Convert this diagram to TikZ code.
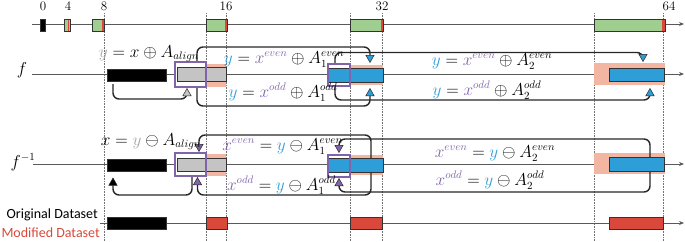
\documentclass[tikz,border=0pt]{standalone}
\usepackage{fontspec}
\newfontfamily\carl{Carlito}
\usetikzlibrary{arrows.meta,calc}
\definecolor{grn}{RGB}{160,206,145}
\definecolor{redc}{RGB}{217,72,58}
\definecolor{salm}{RGB}{243,182,162}
\definecolor{bluec}{RGB}{46,158,216}
\definecolor{purp}{RGB}{128,100,170}
\definecolor{grayf}{RGB}{196,196,196}
\definecolor{grayt}{RGB}{165,165,165}
\newcommand\mfont{\fontsize{16}{19}\selectfont}
\begin{document}
\begin{tikzpicture}[x=1pt,y=-1pt,
  axis/.style={draw=black!65,line width=0.8pt,-{Stealth[length=5pt,width=4pt]}},
  guide/.style={draw=black!55,densely dotted,line width=0.6pt},
  rbox/.style={draw=black!80,line width=0.8pt,inner sep=0pt,outer sep=0pt},
  sbox/.style={fill=salm,draw=none,inner sep=0pt,outer sep=0pt},
  pbox/.style={draw=purp,line width=1.2pt,fill=white,inner sep=0pt,outer sep=0pt},
  pline/.style={draw=purp,line width=1.2pt,inner sep=0pt,outer sep=0pt},
  conn/.style={draw=black!85,line width=1.4pt,rounded corners=6pt},
  btip/.tip={Triangle[width=9pt,length=8pt,fill=bluec,line width=0.5pt]},
  gtip/.tip={Triangle[width=9pt,length=8pt,fill=grayf,line width=0.5pt]},
  ptip/.tip={Triangle[width=9pt,length=8pt,fill=purp,line width=0.5pt]},
  ktip/.tip={Triangle[width=9pt,length=8pt,fill=black,line width=0.5pt]},
  lab/.style={font=\mfont,inner sep=0pt,anchor=base},
  tick/.style={font=\fontsize{13}{15}\selectfont,inner sep=0pt,anchor=base}]
\useasboundingbox (0,0) rectangle (685,241);
% guides
\foreach \gx in {104,206,226,350,382,594,663} \draw[guide] (\gx,13) -- (\gx,241);
% tick labels
\node[tick] (n0) at (43,10) {0};
\node[tick] (n4) at (68,10) {4};
\node[tick] (n8) at (104,10) {8};
\node[tick] (n16) at (226,10) {16};
\node[tick] (n32) at (382,10) {32};
\node[tick] (n64) at (669,10) {64};
% axes
\coordinate (aT0) at (32,24); \coordinate (aT1) at (684,24);
\coordinate (aF0) at (32,74); \coordinate (aF1) at (684,74);
\coordinate (aI0) at (33,164); \coordinate (aI1) at (684,164);
\coordinate (aD0) at (100,223); \coordinate (aD1) at (684,223);
\draw[axis] (aT0) -- (aT1);
\draw[axis] (aF0) -- (aF1);
\draw[axis] (aI0) -- (aI1);
\draw[axis] (aD0) -- (aD1);
% timeline blocks
\node[rbox,fill=black,minimum width=4.5pt,minimum height=12pt] (t0) at (43,25) {};
\node[rbox,fill=grn,minimum width=6pt,minimum height=12pt] (t4) at (67,25) {};
\node[fill=redc,inner sep=0pt,minimum width=1.6pt,minimum height=11pt] (r4) at (68.3,25) {};
\node[rbox,fill=grn,minimum width=12pt,minimum height=12pt] (t8) at (98,25) {};
\node[fill=redc,inner sep=0pt,minimum width=1.6pt,minimum height=11pt] (r8) at (103.2,25) {};
\node[rbox,fill=grn,minimum width=21pt,minimum height=12pt] (t16) at (216.5,25) {};
\node[fill=redc,inner sep=0pt,minimum width=2pt,minimum height=11pt] (r16) at (225.7,25) {};
\node[rbox,fill=grn,minimum width=33pt,minimum height=12pt] (t32) at (366.5,25) {};
\node[fill=redc,inner sep=0pt,minimum width=2pt,minimum height=11pt] (r32) at (381.7,25) {};
\node[rbox,fill=grn,minimum width=71pt,minimum height=12pt] (t64) at (629.5,25) {};
\node[fill=redc,inner sep=0pt,minimum width=2.5pt,minimum height=11pt] (r64) at (663.5,25) {};
% ---------- f row: salmon bands
\node[sbox,minimum width=20pt,minimum height=23pt] (salF16) at (216,75.5) {};
\node[sbox,minimum width=33pt,minimum height=20pt] (salF32) at (366.5,75) {};
\node[sbox,minimum width=71pt,minimum height=22pt] (salF64) at (629.5,74) {};
% f^-1 row: salmon bands
\node[sbox,minimum width=20pt,minimum height=22pt] (salI16) at (216,165) {};
\node[sbox,minimum width=33pt,minimum height=20pt] (salI32) at (366.5,165) {};
\node[sbox,minimum width=71pt,minimum height=21pt] (salI64) at (629.5,163.5) {};
% box geometry (invisible anchors for connectors)
\node[inner sep=0pt,outer sep=0pt,minimum width=59pt,minimum height=12pt] (blkF) at (136.5,75) {};
\node[inner sep=0pt,outer sep=0pt,minimum width=31pt,minimum height=25pt] (purF16) at (190.5,74.5) {};
\node[inner sep=0pt,outer sep=0pt,minimum width=22pt,minimum height=22pt] (purF32) at (339,75) {};
\node[inner sep=0pt,outer sep=0pt,minimum width=55pt,minimum height=13pt] (bluF64) at (636.5,74.5) {};
\node[inner sep=0pt,outer sep=0pt,minimum width=59pt,minimum height=12pt] (blkI) at (136.5,165.5) {};
\node[inner sep=0pt,outer sep=0pt,minimum width=31pt,minimum height=23pt] (purI16) at (190.5,164.5) {};
\node[inner sep=0pt,outer sep=0pt,minimum width=22pt,minimum height=22pt] (purI32) at (339,166) {};
\node[inner sep=0pt,outer sep=0pt,minimum width=55pt,minimum height=14pt] (bluI32) at (355.5,165) {};
\node[inner sep=0pt,outer sep=0pt,minimum width=55pt,minimum height=14pt] (bluI64) at (636.5,164.5) {};
% ---------- f row connectors
\draw[conn,-{gtip}] ([xshift=-23.5pt,yshift=-3pt]blkF.south) -- ++(0,15) -| ([xshift=-3.5pt,yshift=-1pt]purF16.south);
\draw[conn,-{btip}] ([xshift=6.5pt]purF16.center) -- ++(0,-27.5) -| ([xshift=3.5pt,yshift=2pt]salF32.north);
\draw[conn,-{btip}] ([xshift=6.5pt]purF16.center) -- ++(0,31.5) -| ([xshift=3.5pt,yshift=-3pt]salF32.south);
\draw[conn,-{btip}] ([xshift=-4pt]purF32.center) -- ++(0,-22.5) -| ([xshift=13.5pt,yshift=1pt]salF64.north);
\draw[conn,-{btip}] ([xshift=-4pt]purF32.center) -- ++(0,25) -| ([xshift=13.5pt,yshift=-7pt]bluF64.south);
% ---------- f^-1 row connectors
\draw[conn,-{ktip}] ([xshift=1.5pt]purI16.south) -- ++(0,19) -| ([xshift=-23.5pt,yshift=-6pt]blkI.south);
\draw[conn,-{ptip}] ([xshift=15.5pt]bluI32.center) -- ++(0,-30) -| ([xshift=8.5pt,yshift=1pt]purI16.north);
\draw[conn,-{ptip}] ([xshift=15.5pt]bluI32.center) -- ++(0,30) -| ([xshift=7pt,yshift=-1pt]purI16.south);
\draw[conn,-{ptip}] ([xshift=13.5pt]bluI64.center) -- ++(0,-25.5) -| ([yshift=2pt]purI32.north);
\draw[conn,-{ptip}] ([xshift=13.5pt]bluI64.center) -- ++(0,27.5) -| ([yshift=-1pt]purI32.south);
% ---------- f row boxes
\node[rbox,fill=black,minimum width=59pt,minimum height=12pt] (blkFv) at (blkF) {};
\node[pbox,minimum width=31pt,minimum height=25pt] (purF16w) at (purF16) {};
\node[rbox,fill=grayf,minimum width=49pt,minimum height=14pt] (grayF) at (201.5,74) {};
\node[pline,minimum width=31pt,minimum height=25pt] (purF16b) at (purF16) {};
\node[pbox,minimum width=22pt,minimum height=22pt] (purF32w) at (purF32) {};
\node[rbox,fill=bluec,minimum width=55pt,minimum height=14pt] (bluF32) at (355.5,75) {};
\node[pline,minimum width=22pt,minimum height=22pt] (purF32b) at (purF32) {};
\node[rbox,fill=bluec,minimum width=55pt,minimum height=13pt] (bluF64v) at (bluF64) {};
% ---------- f^-1 row boxes
\node[rbox,fill=black,minimum width=59pt,minimum height=12pt] (blkIv) at (blkI) {};
\node[pbox,minimum width=31pt,minimum height=23pt] (purI16w) at (purI16) {};
\node[rbox,fill=grayf,minimum width=49pt,minimum height=13pt] (grayI) at (201.5,164.5) {};
\node[pline,minimum width=31pt,minimum height=23pt] (purI16b) at (purI16) {};
\node[pbox,minimum width=22pt,minimum height=22pt] (purI32w) at (purI32) {};
\node[rbox,fill=bluec,minimum width=55pt,minimum height=14pt] (bluI32v) at (bluI32) {};
\node[pline,minimum width=22pt,minimum height=22pt] (purI32b) at (purI32) {};
\node[rbox,fill=bluec,minimum width=55pt,minimum height=14pt] (bluI64v) at (bluI64) {};
% ---------- dataset row
\node[rbox,fill=black,minimum width=59pt,minimum height=12pt] (blkD) at (136.5,223) {};
\node[rbox,fill=redc,minimum width=21pt,minimum height=12pt] (redD16) at (216.5,223) {};
\node[rbox,fill=redc,minimum width=32pt,minimum height=12pt] (redD32) at (366,223) {};
\node[rbox,fill=redc,minimum width=54pt,minimum height=12pt] (redD64) at (636,223) {};
% ---------- labels
\node[lab] (lf) at (22,74) {$f$};
\node[lab] (lfi) at (23,167) {$f^{-1}$};
\node[inner sep=0pt,anchor=base east,font=\carl\fontsize{14}{16}\selectfont] (lorig) at (98,218) {Original Dataset};
\node[inner sep=0pt,anchor=base east,font=\carl\fontsize{14}{16}\selectfont,text=redc] (lmod) at (100,237) {Modified Dataset};
% f equations
\node[lab] (eF0) at (149,57) {$\textcolor{grayt}{y} = x \oplus A_{align}$};
\node[lab] (eF1) at (284,63) {$\textcolor{bluec}{y} = \textcolor{purp}{x^{even}} \oplus A_1^{even}$};
\node[lab] (eF2) at (283,97) {$\textcolor{bluec}{y} = \textcolor{purp}{x^{odd}} \oplus A_1^{odd}$};
\node[lab] (eF3) at (492,65) {$\textcolor{bluec}{y} = \textcolor{purp}{x^{even}} \oplus A_2^{even}$};
\node[lab] (eF4) at (487,95) {$\textcolor{bluec}{y} = \textcolor{purp}{x^{odd}} \oplus A_2^{odd}$};
% f^-1 equations
\node[lab] (eI0) at (151,145) {$x = \textcolor{grayt}{y} \ominus A_{align}$};
\node[lab] (eI1) at (282.5,150) {$\textcolor{purp}{x^{even}} = \textcolor{bluec}{y} \ominus A_1^{even}$};
\node[lab] (eI2) at (281.5,190) {$\textcolor{purp}{x^{odd}} = \textcolor{bluec}{y} \ominus A_1^{odd}$};
\node[lab] (eI3) at (495,157) {$\textcolor{purp}{x^{even}} = \textcolor{bluec}{y} \ominus A_2^{even}$};
\node[lab] (eI4) at (490,185) {$\textcolor{purp}{x^{odd}} = \textcolor{bluec}{y} \ominus A_2^{odd}$};
\end{tikzpicture}
\end{document}
